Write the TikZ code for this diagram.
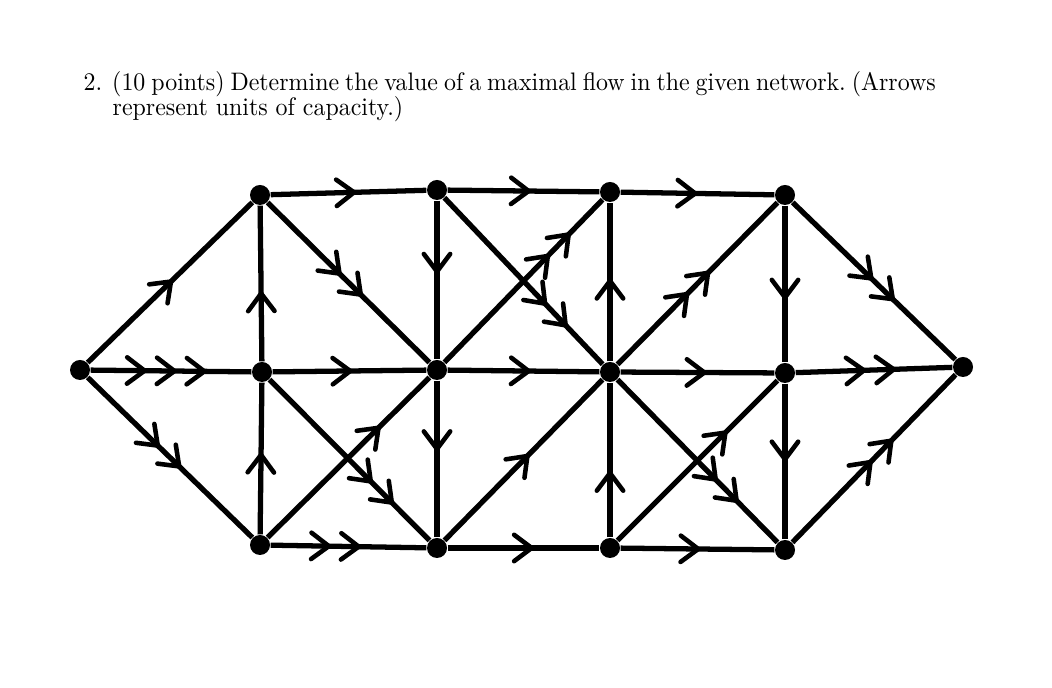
\documentclass[tikz,border=0pt]{standalone}
\usepackage{amssymb}
\usetikzlibrary{arrows.meta,decorations.markings}

\begin{document}
\begin{tikzpicture}[x=1cm,y=1cm,
   vtx/.style={circle,fill,inner sep=0pt,minimum size=0.2cm},
   chev/.tip={Straight Barb[length=5pt,width=7.5pt,line width=1.3pt,sep=2.2pt,round]},
   edge/.style={line width=1.5pt},
   flow1/.style={edge,postaction={decorate,decoration={markings,mark=at position #1 with {\arrow{chev[]}}}}},
   flow1/.default=0.56,
   flow2/.style={edge,postaction={decorate,decoration={markings,mark=at position #1 with {\arrow{chev[]chev[]}}}}},
   flow2/.default=0.62,
   flow3/.style={edge,postaction={decorate,decoration={markings,mark=at position #1 with {\arrow{chev[]chev[]chev[]}}}}},
   flow3/.default=0.77,
   qtext/.style={anchor=base west,inner sep=0pt,font=\fontsize{10}{12}\selectfont}]
   \path[fill=white] (0,0) rectangle (10.52,6.88);

   \node[qtext] (q1) at (0.83,5.97) {\scalebox{0.68}[0.72]{\makebox[12.53cm][s]{2. (10 points) Determine the value of a maximal flow in the given network.\ (Arrows}}};
   \node[qtext] (q2) at (1.12,5.72) {\scalebox{0.68}[0.72]{represent units of capacity.)}};

   \node[vtx] (s) at (0.80,3.18) {};
   \node[vtx] (a1) at (2.60,4.93) {};
   \node[vtx] (a2) at (4.37,4.98) {};
   \node[vtx] (a3) at (6.10,4.96) {};
   \node[vtx] (a4) at (7.85,4.93) {};
   \node[vtx] (b1) at (2.62,3.16) {};
   \node[vtx] (b2) at (4.37,3.18) {};
   \node[vtx] (b3) at (6.10,3.16) {};
   \node[vtx] (b4) at (7.85,3.15) {};
   \node[vtx] (c1) at (2.60,1.43) {};
   \node[vtx] (c2) at (4.37,1.40) {};
   \node[vtx] (c3) at (6.10,1.40) {};
   \node[vtx] (c4) at (7.85,1.38) {};
   \node[vtx] (t) at (9.63,3.21) {};

   \draw[flow1=0.55] (s) -- (a1);
   \draw[flow3] (s) -- (b1);
   \draw[flow2=0.6] (s) -- (c1);
   \draw[flow1=0.5] (b1) -- (a1);
   \draw[flow1=0.59] (c1) -- (b1);
   \draw[flow1=0.6] (a1) -- (a2);
   \draw[flow2] (a1) -- (b2);
   \draw[flow1=0.51] (a2) -- (b2);
   \draw[flow1=0.57] (b1) -- (b2);
   \draw[flow2=0.81] (b1) -- (c2);
   \draw[flow1=0.73] (c1) -- (b2);
   \draw[flow2=0.63] (c1) -- (c2);
   \draw[flow1=0.5] (b2) -- (c2);
   \draw[flow1=0.6] (a2) -- (a3);
   \draw[flow2=0.83] (b2) -- (a3);
   \draw[flow2=0.81] (a2) -- (b3);
   \draw[flow1=0.57] (b3) -- (a3);
   \draw[flow1=0.6] (b2) -- (b3);
   \draw[flow1=0.57] (c2) -- (b3);
   \draw[flow1=0.62] (c2) -- (c3);
   \draw[flow1=0.48] (c3) -- (b3);
   \draw[flow1=0.55] (a3) -- (a4);
   \draw[flow2=0.61] (b3) -- (a4);
   \draw[flow1=0.65] (a4) -- (b4);
   \draw[flow1=0.61] (b3) -- (b4);
   \draw[flow2=0.79] (b3) -- (c4);
   \draw[flow1=0.72] (c3) -- (b4);
   \draw[flow1=0.57] (c3) -- (c4);
   \draw[flow1=0.55] (b4) -- (c4);
   \draw[flow2=0.66] (a4) -- (t);
   \draw[flow2=0.69] (b4) -- (t);
   \draw[flow2=0.65] (c4) -- (t);
\end{tikzpicture}
\end{document}
